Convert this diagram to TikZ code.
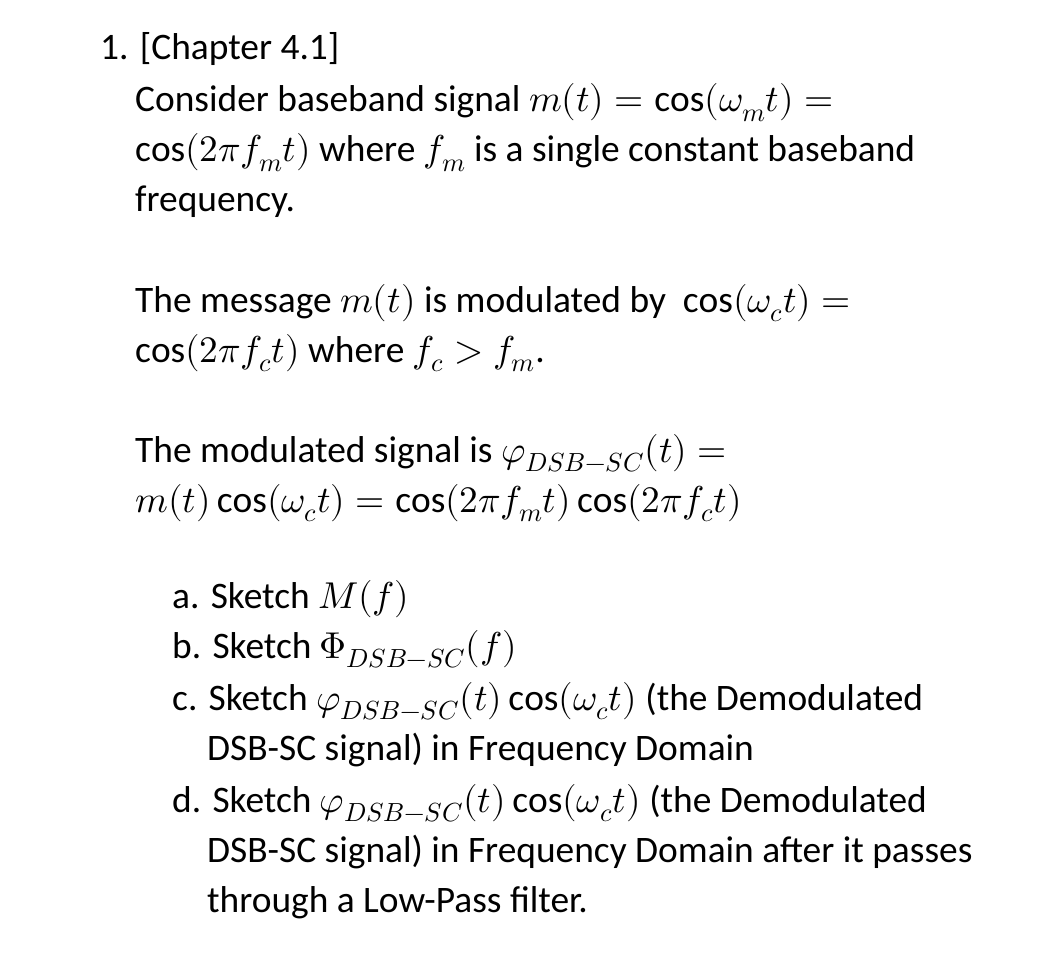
\documentclass[tikz,border=0pt]{standalone}
\usepackage{fontspec}
\usepackage{unicode-math}
\setmainfont{Carlito}
\setmathfont{Latin Modern Math}
\begin{document}
\begin{tikzpicture}[x=1pt,y=1pt,txt/.style={anchor=base west,inner sep=0pt,font=\fontsize{37.4}{44}\selectfont}]
\useasboundingbox (0,0) rectangle (1064,-973);
\node[txt] (l1) at (100,-60) {1. [Chapter 4.1]};
\node[txt] (l2) at (135,-112) {Consider baseband signal $m(t)=\cos(\omega_m t)=$};
\node[txt] (l3) at (135,-162) {$\cos(2\pi f_m t)$ where $f_m$ is a single constant baseband};
\node[txt] (l4) at (135,-212) {frequency.};
\node[txt] (l5) at (135,-312) {The message $m(t)$ is modulated by\ \ $\cos(\omega_c t)=$};
\node[txt] (l6) at (135,-362) {$\cos(2\pi f_c t)$ where $f_c>f_m$.};
\node[txt] (l7) at (135,-462) {The modulated signal is $\varphi_{DSB-SC}(t)=$};
\node[txt] (l8) at (135,-512) {$m(t)\cos(\omega_c t)=\cos(2\pi f_m t)\cos(2\pi f_c t)$};
\node[txt] (a) at (172,-608) {a. Sketch $M(f)$};
\node[txt] (b) at (172,-658) {b. Sketch $\Phi_{DSB-SC}(f)$};
\node[txt] (c1) at (172,-710) {c. Sketch $\varphi_{DSB-SC}(t)\cos(\omega_c t)$ (the Demodulated};
\node[txt] (c2) at (207,-760) {DSB-SC signal) in Frequency Domain};
\node[txt] (d1) at (172,-812) {d. Sketch $\varphi_{DSB-SC}(t)\cos(\omega_c t)$ (the Demodulated};
\node[txt] (d2) at (207,-862) {DSB-SC signal) in Frequency Domain after it passes};
\node[txt] (d3) at (207,-912) {through a Low-Pass filter.};
\end{tikzpicture}
\end{document}
